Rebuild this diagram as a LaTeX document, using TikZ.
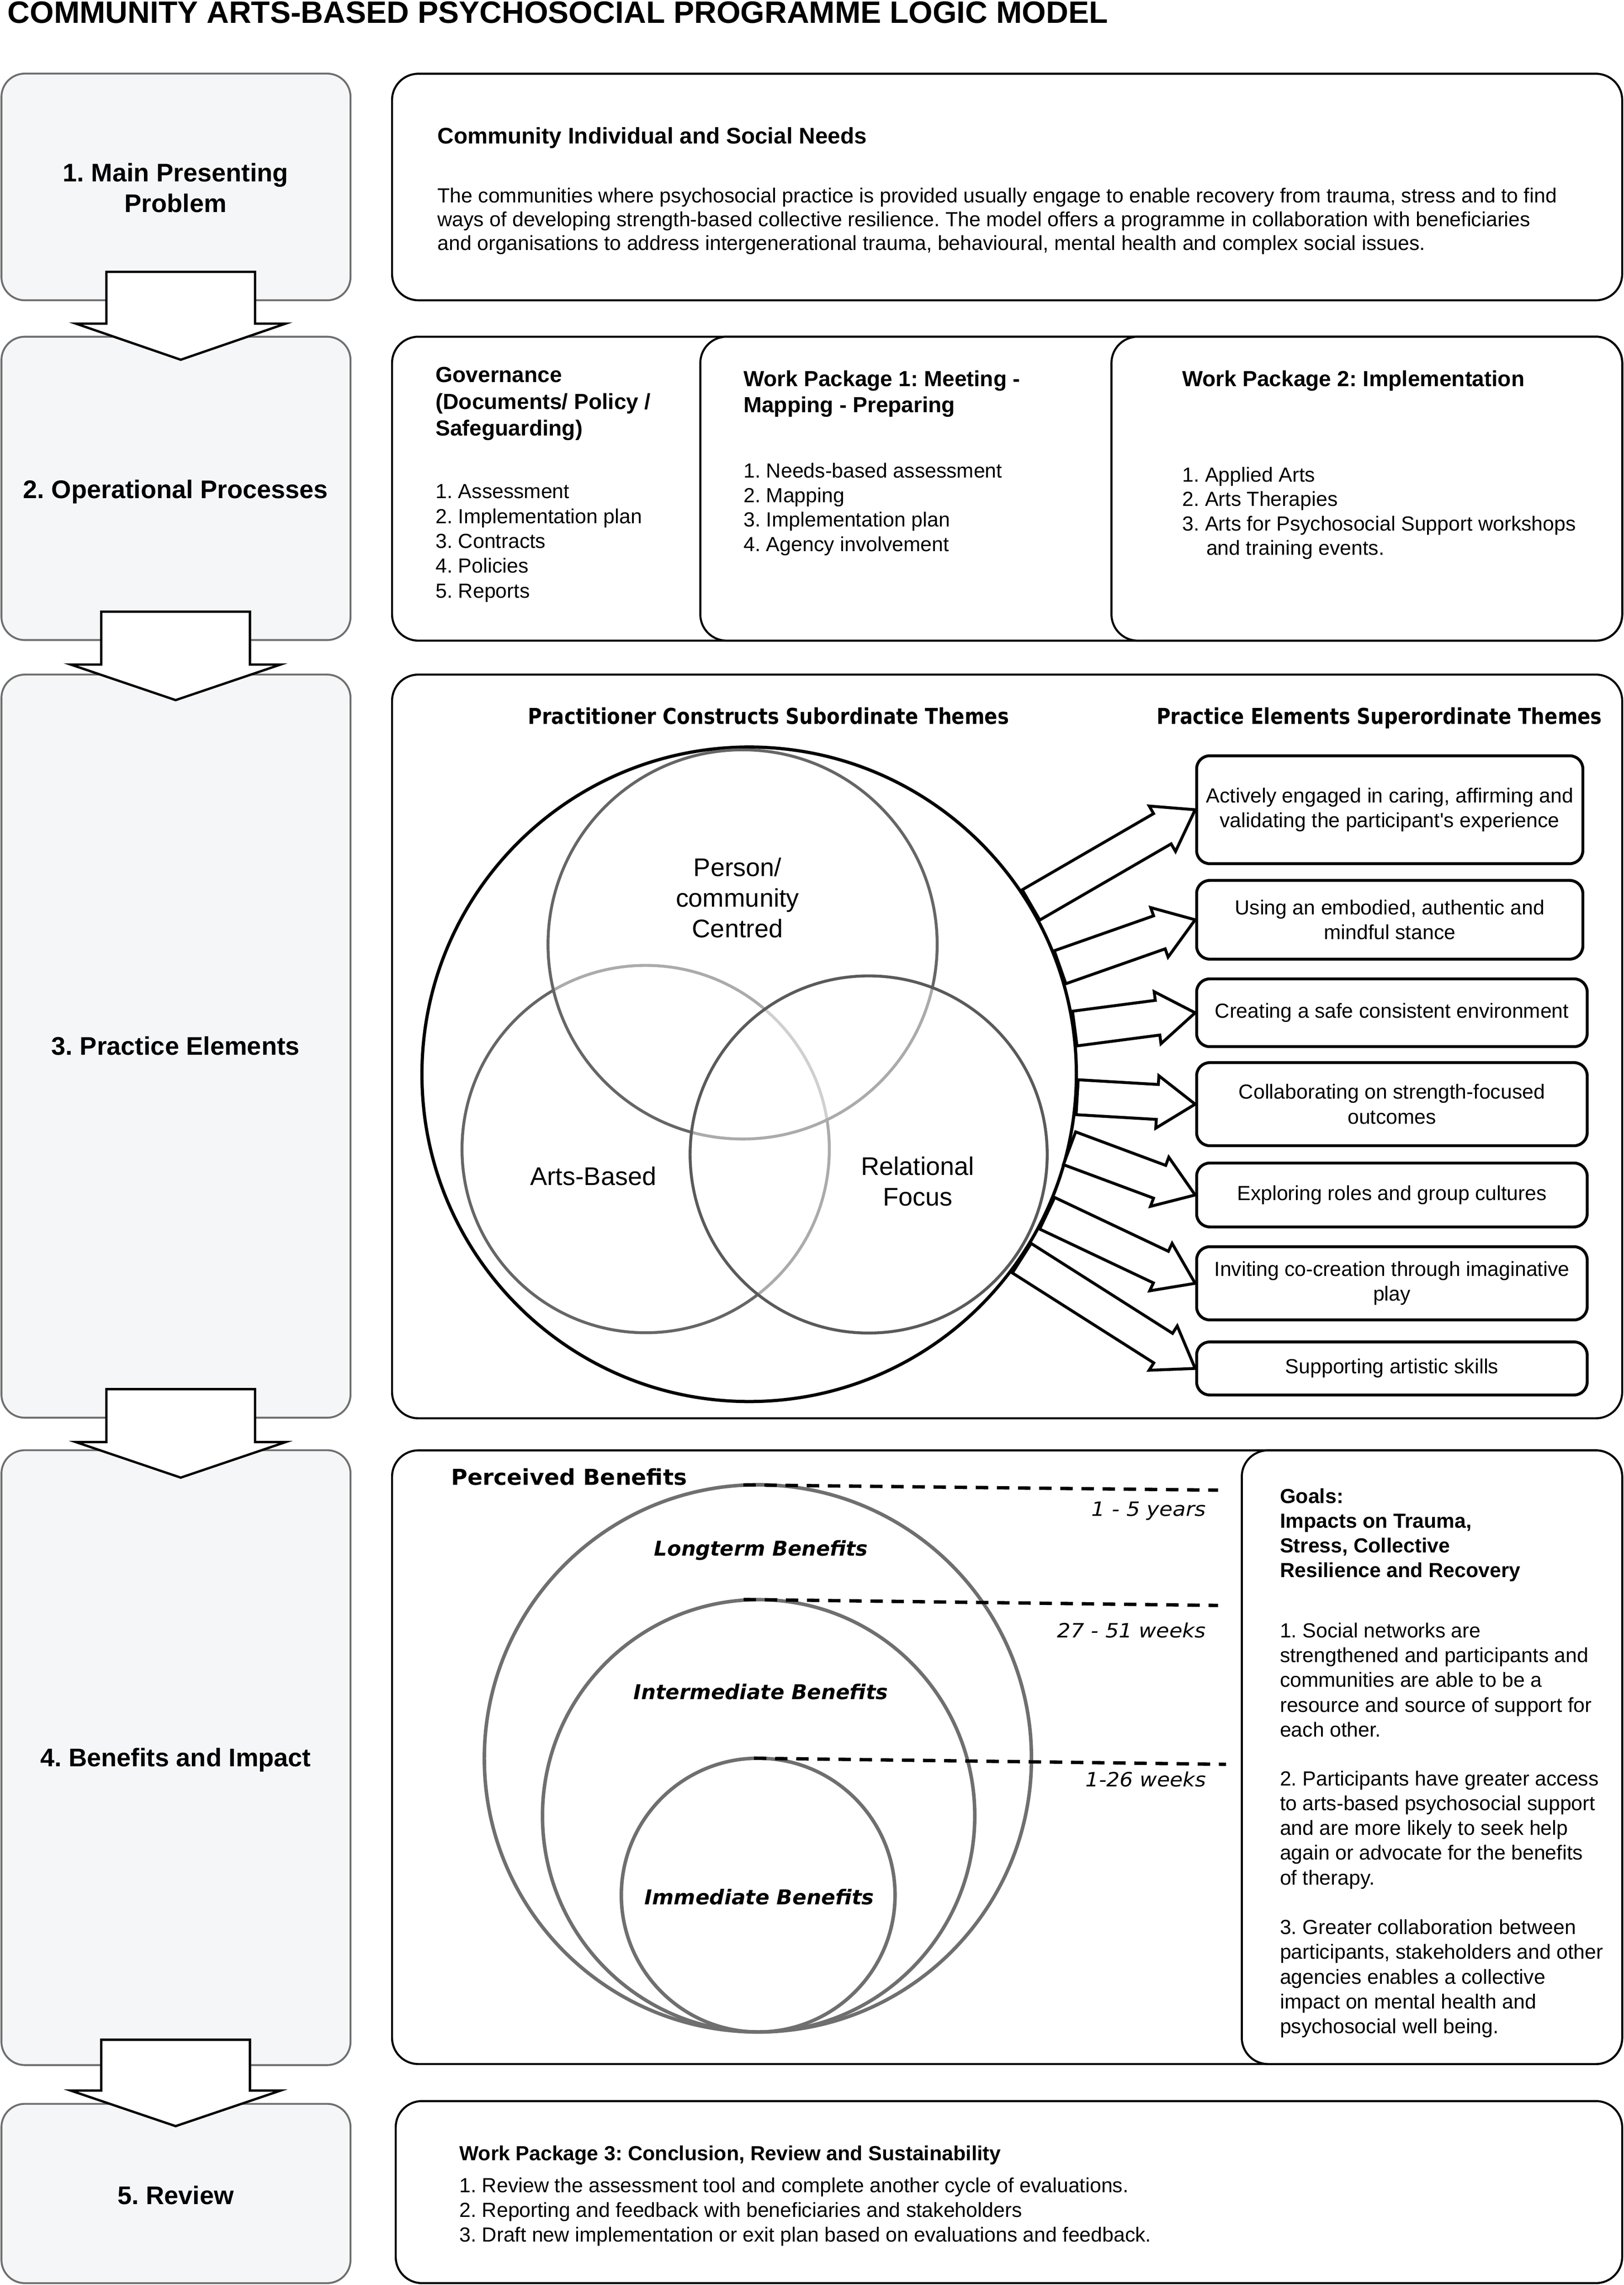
\documentclass[tikz,border=0pt]{standalone}
\usepackage{fontspec}
\usepackage{graphicx}
\setmainfont{Liberation Sans}
\newfontfamily\dvs{DejaVu Sans}
\usetikzlibrary{calc}
\definecolor{lbfill}{HTML}{F5F6F8}
\definecolor{lbdraw}{HTML}{6F6F6F}
\definecolor{ringgray}{HTML}{6F6F6F}
\definecolor{venna}{HTML}{666666}
\definecolor{vennp}{HTML}{666666}
\definecolor{vennr}{HTML}{5A5A5A}
\newcommand{\fs}[2]{\fontsize{#1}{#2}\selectfont}
\newcommand{\fitw}[2]{\resizebox{#1}{\height}{#2}}
\newcommand{\downarr}[4]{%
  \draw[downarrow] (#1-51,#2) -- (#1+51,#2) -- (#1+51,#3) -- (#1+72,#3) -- (#1,#4) -- (#1-72,#3) -- (#1-51,#3) -- cycle;}
\begin{document}
\frenchspacing
\begin{tikzpicture}[x=1pt,y=-1pt,
  leftbox/.style={draw=lbdraw, fill=lbfill, line width=1.3pt, rounded corners=16pt},
  rightbox/.style={draw=black, fill=white, line width=1.4pt, rounded corners=18pt},
  downarrow/.style={draw=black, fill=white, line width=1.6pt, line join=miter},
  elembox/.style={draw=black, fill=white, line width=2pt, rounded corners=9pt, inner sep=0pt, align=center, font=\fs{14}{17}},
  blockarr/.style={draw=black, fill=white, line width=2pt, line join=miter},
  ring/.style={circle, draw=ringgray, line width=2.4pt, inner sep=0pt},
  dashline/.style={draw=black, line width=2.3pt, dash pattern=on 8.5pt off 6pt},
  lbl/.style={inner sep=0pt, anchor=base, font=\bfseries\fs{17.5}{21}, align=center},
  txt/.style={inner sep=0pt, anchor=base west, align=left, font=\fs{14}{17}},
  btxt/.style={inner sep=0pt, anchor=base west, align=left, font=\bfseries\fs{15}{18.3}},
  vlbl/.style={inner sep=0pt, anchor=base, align=center, font=\fs{17.5}{21}},
]
\useasboundingbox (0,0) rectangle (1114,1567.6);
\fill[white] (0,0) rectangle (1114,1567.6);

% ---------- title
\node[anchor=base west, inner sep=0pt, font=\bfseries\fs{21.2}{25}] (title) at (5,15.8) {COMMUNITY ARTS-BASED PSYCHOSOCIAL PROGRAMME LOGIC MODEL};

% ---------- left column
\draw[leftbox] (1,50.5) rectangle (240.5,206);
\draw[leftbox] (1,231) rectangle (240.5,439.1);
\draw[leftbox] (1,462.8) rectangle (240.5,972.6);
\draw[leftbox] (1,994.9) rectangle (240.5,1416.7);
\draw[leftbox] (1,1443.3) rectangle (240.5,1566.3);

\downarr{124}{186.5}{222}{246.8}
\downarr{120.5}{419.6}{455.9}{480.3}
\downarr{124}{953}{989.3}{1013.7}
\downarr{120.5}{1399.3}{1434.2}{1458.6}

% (base anchor of a multi-line node = baseline of its last line)
\node[lbl] (lab1) at (120.5,145.7) {1. Main Presenting\\Problem};
\node[lbl] (lab2) at (120.5,342) {2. Operational Processes};
\node[lbl] (lab3) at (120.5,723.6) {3. Practice Elements};
\node[lbl] (lab4) at (120.5,1211.8) {4. Benefits and Impact};
\node[lbl] (lab5) at (120.5,1512.3) {5. Review};

% ---------- row 1
\draw[rightbox] (269,50.6) rectangle (1113,206);
\node[btxt, font=\bfseries\fs{15.5}{18}] (needsh) at (300,98.5) {Community Individual and Social Needs};
\node[txt, font=\fs{14}{16.4}] (needsp) at (300,171.8) {The communities where psychosocial practice is provided usually engage to enable recovery from trauma, stress and to find\\ways of developing strength-based collective resilience. The model offers a programme in collaboration with beneficiaries\\and organisations to address intergenerational trauma, behavioural, mental health and complex social issues.};

% ---------- row 2
\draw[rightbox] (269,231) rectangle (1113,439.5);
\draw[rightbox] (480.5,231) rectangle (1113,439.5);
\draw[rightbox] (762.6,231) rectangle (1113,439.5);
\node[btxt] (govh) at (298.7,299) {Governance\\(Documents/ Policy /\\Safeguarding)};
\node[txt, font=\fs{14}{17.05}] (govl) at (298.7,410.2) {1. Assessment\\2. Implementation plan\\3. Contracts\\4. Policies\\5. Reports};
\node[btxt, font=\bfseries\fs{15}{18}] (wp1h) at (510,283) {Work Package 1: Meeting -\\Mapping - Preparing};
\node[txt, font=\fs{14}{16.8}] (wp1l) at (510,378.2) {1. Needs-based assessment\\2. Mapping\\3. Implementation plan\\4. Agency involvement};
\node[btxt] (wp2h) at (811,265) {Work Package 2: Implementation};
\node[txt, font=\fs{14}{16.8}] (wp2l) at (811,380.9) {1. Applied Arts\\2. Arts Therapies\\3. Arts for Psychosocial Support workshops\\\hspace*{16.5pt}and training events.};

% ---------- row 3
\draw[rightbox] (269,462.8) rectangle (1113,973);
\node[inner sep=0pt, anchor=base west] (h3a) at (362.1,496.9) {\fitw{330pt}{\dvs\bfseries\fs{15}{18}Practitioner Constructs Subordinate Themes}};
\node[inner sep=0pt, anchor=base west] (h3b) at (793.4,496.9) {\fitw{305.5pt}{\dvs\bfseries\fs{15}{18}Practice Elements Superordinate Themes}};

\node[circle, draw=black, line width=2.2pt, fill=white, minimum size=449pt, inner sep=0pt] (big) at (514,737) {};
\node[circle, draw=venna, line width=2pt, minimum size=252pt, inner sep=0pt] (arts) at (443,788.3) {};
\node[circle, draw=vennp, line width=2pt, fill=white, fill opacity=0.45, minimum size=267pt, inner sep=0pt] (person) at (509.5,647.9) {};
\node[circle, draw=vennr, line width=2pt, fill=white, fill opacity=0.45, minimum size=245pt, inner sep=0pt] (rel) at (596,792) {};

\node[vlbl] (personl) at (506,643.3) {Person/\\community\\Centred};
\node[vlbl] (artsl) at (407,813) {Arts-Based};
\node[vlbl] (rell) at (629.6,827.3) {Relational\\Focus};

\node[elembox, minimum width=265pt, minimum height=74pt] (e1) at (953.5,555.5) {Actively engaged in caring, affirming and\\validating the participant\textquotesingle s experience};
\node[elembox, minimum width=265pt, minimum height=54pt] (e2) at (953.5,631) {Using an embodied, authentic and\\mindful stance};
\node[elembox, minimum width=268pt, minimum height=46.5pt] (e3) at (955,694.8) {Creating a safe consistent environment};
\node[elembox, minimum width=268pt, minimum height=57pt] (e4) at (955,757.5) {Collaborating on strength-focused\\outcomes};
\node[elembox, minimum width=268pt, minimum height=43.8pt] (e5) at (955,819.8) {Exploring roles and group cultures};
\node[elembox, minimum width=268pt, minimum height=50.2pt] (e6) at (955,880.4) {Inviting co-creation through imaginative\\play};
\node[elembox, minimum width=268pt, minimum height=36.4pt] (e7) at (955,938.8) {Supporting artistic skills};

\foreach \i/\a in {1/31,2/19,3/8,4/-4,5/-13,6/-25,7/-34}{
  \coordinate (s\i) at (big.\a);
  \coordinate (b\i) at ($(e\i.west)!26pt!(s\i)$);
  \draw[blockarr] ($(s\i)!12pt!90:(e\i.west)$) -- ($(b\i)!12pt!90:(e\i.west)$) -- ($(b\i)!18pt!90:(e\i.west)$) -- (e\i.west) -- ($(b\i)!18pt!-90:(e\i.west)$) -- ($(b\i)!12pt!-90:(e\i.west)$) -- ($(s\i)!12pt!-90:(e\i.west)$) -- cycle;
}

% ---------- row 4
\draw[rightbox] (269,995) rectangle (1113,1416);
\draw[rightbox] (852,995) rectangle (1113,1416);
\node[inner sep=0pt, anchor=base west] (perc) at (309.5,1018.7) {\fitw{161.7pt}{\dvs\bfseries\fs{15}{18}Perceived Benefits}};

\node[ring, minimum size=375.4pt] (longc) at (520,1206.3) {};
\node[ring, minimum size=296.6pt] (midc) at (520.5,1245.7) {};
\node[ring, minimum size=187.8pt] (immc) at (520.2,1300.1) {};

\coordinate (d1a) at (510,1018.7);  \coordinate (d1b) at (835.7,1022.3);
\coordinate (d2a) at (510.2,1097.3); \coordinate (d2b) at (835.7,1101.4);
\coordinate (d3a) at (517.3,1206.2); \coordinate (d3b) at (841.2,1210.4);
\draw[dashline] (d1a) -- (d1b);
\draw[dashline] (d2a) -- (d2b);
\draw[dashline] (d3a) -- (d3b);

\node[inner sep=0pt, anchor=base east] (t1) at (827.6,1040.1) {\fitw{78.6pt}{\dvs\itshape\fs{13.5}{16}1 - 5 years}};
\node[inner sep=0pt, anchor=base east] (t2) at (827.6,1123.4) {\fitw{102pt}{\dvs\itshape\fs{13.5}{16}27 - 51 weeks}};
\node[inner sep=0pt, anchor=base east] (t3) at (827.6,1225.7) {\fitw{82.5pt}{\dvs\itshape\fs{13.5}{16}1-26 weeks}};

\node[inner sep=0pt, anchor=base] (lb) at (522.2,1067.4) {\fitw{146.5pt}{\dvs\bfseries\itshape\fs{14}{17}Longterm Benefits}};
\node[inner sep=0pt, anchor=base] (ib) at (522,1165.8) {\fitw{174.7pt}{\dvs\bfseries\itshape\fs{14}{17}Intermediate Benefits}};
\node[inner sep=0pt, anchor=base] (mb) at (521,1306.5) {\fitw{157.4pt}{\dvs\bfseries\itshape\fs{14}{17}Immediate Benefits}};

\node[txt, font=\bfseries\fs{14}{16.9}] (goalh) at (878,1082.1) {Goals:\\Impacts on Trauma,\\Stress, Collective\\Resilience and Recovery};
\node[txt] (goal1) at (878,1191.5) {1. Social networks are\\strengthened and participants and\\communities are able to be a\\resource and source of support for\\each other.};
\node[txt] (goal2) at (878,1293) {2. Participants have greater access\\to arts-based psychosocial support\\and are more likely to seek help\\again or advocate for the benefits\\of therapy.};
\node[txt] (goal3) at (878,1395) {3. Greater collaboration between\\participants, stakeholders and other\\agencies enables a collective\\impact on mental health and\\psychosocial well being.};

% ---------- row 5
\draw[rightbox] (271.5,1441.4) rectangle (1113,1566.3);
\node[txt, font=\bfseries\fs{14}{17}] (wp3h) at (315,1482) {Work Package 3: Conclusion, Review and Sustainability};
\node[txt] (wp3l) at (315,1538) {1. Review the assessment tool and complete another cycle of evaluations.\\2. Reporting and feedback with beneficiaries and stakeholders\\3. Draft new implementation or exit plan based on evaluations and feedback.};
\end{tikzpicture}
\end{document}
